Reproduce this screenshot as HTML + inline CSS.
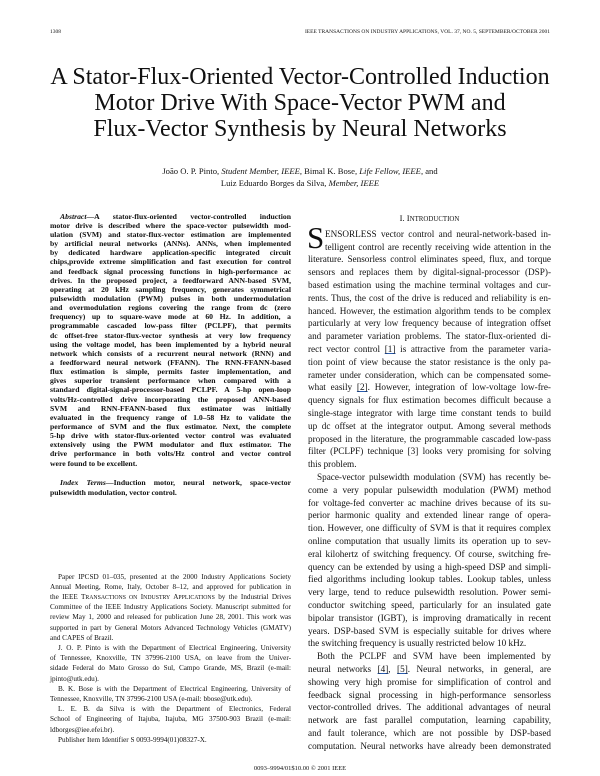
<!DOCTYPE html>
<html><head><meta charset="utf-8"><style>
body{margin:0;width:600px;height:776px;background:#fff;position:relative;overflow:hidden;font-family:"Liberation Serif","Times New Roman",serif;color:#111}
.a{position:absolute;white-space:nowrap;font-family:"Liberation Serif",serif}
.l{position:absolute;white-space:nowrap;text-align:justify;text-align-last:justify;font-family:"Liberation Serif",serif}
.ab{font-weight:bold;font-size:7.7px;left:50px;width:241px}
.bd{font-size:9.2px;left:308px;width:243px}
.fn{font-size:7.2px;left:50px;width:241px}
.nl{text-align-last:left}
.t{left:0;width:600px;text-align:center;font-size:24px;font-family:"Liberation Serif","Times New Roman",serif;font-weight:normal}
</style></head><body>
<div class="a" style="left:50px;top:29px;font-size:5.5px">1308</div>
<div class="a" style="left:238px;top:29px;font-size:5.5px;width:312px;text-align:right">IEEE TRANSACTIONS ON INDUSTRY APPLICATIONS, VOL. 37, NO. 5, SEPTEMBER/OCTOBER 2001</div>
<div class="a t" style="top:64px">A Stator-Flux-Oriented Vector-Controlled Induction</div>
<div class="a t" style="top:90px">Motor Drive With Space-Vector PWM and</div>
<div class="a t" style="top:116px">Flux-Vector Synthesis by Neural Networks</div>
<div class="a" style="left:0;width:600px;text-align:center;top:166px;font-size:8.6px">João O. P. Pinto, <i>Student Member, IEEE</i>, Bimal K. Bose, <i>Life Fellow, IEEE</i>, and</div>
<div class="a" style="left:0;width:600px;text-align:center;top:178px;font-size:8.6px">Luiz Eduardo Borges da Silva, <i>Member, IEEE</i></div>

<div class="l ab" style="top:212px;left:60px;width:231px"><i>Abstract</i>—A stator-flux-oriented vector-controlled induction</div>
<div class="l ab" style="top:221px">motor drive is described where the space-vector pulsewidth mod-</div>
<div class="l ab" style="top:230px">ulation (SVM) and stator-flux-vector estimation are implemented</div>
<div class="l ab" style="top:239px">by artificial neural networks (ANNs). ANNs, when implemented</div>
<div class="l ab" style="top:248px">by dedicated hardware application-specific integrated circuit</div>
<div class="l ab" style="top:257px">chips,provide extreme simplification and fast execution for control</div>
<div class="l ab" style="top:267px">and feedback signal processing functions in high-performance ac</div>
<div class="l ab" style="top:276px">drives. In the proposed project, a feedforward ANN-based SVM,</div>
<div class="l ab" style="top:285px">operating at 20 kHz sampling frequency, generates symmetrical</div>
<div class="l ab" style="top:294px">pulsewidth modulation (PWM) pulses in both undermodulation</div>
<div class="l ab" style="top:303px">and overmodulation regions covering the range from dc (zero</div>
<div class="l ab" style="top:312px">frequency) up to square-wave mode at 60 Hz. In addition, a</div>
<div class="l ab" style="top:321px">programmable cascaded low-pass filter (PCLPF), that permits</div>
<div class="l ab" style="top:331px">dc offset-free stator-flux-vector synthesis at very low frequency</div>
<div class="l ab" style="top:340px">using the voltage model, has been implemented by a hybrid neural</div>
<div class="l ab" style="top:349px">network which consists of a recurrent neural network (RNN) and</div>
<div class="l ab" style="top:358px">a feedforward neural network (FFANN). The RNN-FFANN-based</div>
<div class="l ab" style="top:367px">flux estimation is simple, permits faster implementation, and</div>
<div class="l ab" style="top:376px">gives superior transient performance when compared with a</div>
<div class="l ab" style="top:385px">standard digital-signal-processor-based PCLPF. A 5-hp open-loop</div>
<div class="l ab" style="top:395px">volts/Hz-controlled drive incorporating the proposed ANN-based</div>
<div class="l ab" style="top:404px">SVM and RNN-FFANN-based flux estimator was initially</div>
<div class="l ab" style="top:413px">evaluated in the frequency range of 1.0–58 Hz to validate the</div>
<div class="l ab" style="top:422px">performance of SVM and the flux estimator. Next, the complete</div>
<div class="l ab" style="top:431px">5-hp drive with stator-flux-oriented vector control was evaluated</div>
<div class="l ab" style="top:440px">extensively using the PWM modulator and flux estimator. The</div>
<div class="l ab" style="top:449px">drive performance in both volts/Hz control and vector control</div>
<div class="l ab nl" style="top:459px">were found to be excellent.</div>
<div class="l ab" style="top:478px;left:60px;width:231px"><i>Index Terms</i>—Induction motor, neural network, space-vector</div>
<div class="l ab nl" style="top:488px">pulsewidth modulation, vector control.</div>

<div class="l fn" style="top:573px;left:58px;width:233px">Paper IPCSD 01–035, presented at the 2000 Industry Applications Society</div>
<div class="l fn" style="top:583px">Annual Meeting, Rome, Italy, October 8–12, and approved for publication in</div>
<div class="l fn" style="top:593px">the IEEE T<span style="font-size:5.8px">RANSACTIONS ON</span> I<span style="font-size:5.8px">NDUSTRY</span> A<span style="font-size:5.8px">PPLICATIONS</span> by the Industrial Drives</div>
<div class="l fn" style="top:603px">Committee of the IEEE Industry Applications Society. Manuscript submitted for</div>
<div class="l fn" style="top:613px">review May 1, 2000 and released for publication June 28, 2001. This work was</div>
<div class="l fn" style="top:624px">supported in part by General Motors Advanced Technology Vehicles (GMATV)</div>
<div class="l fn nl" style="top:634px">and CAPES of Brazil.</div>
<div class="l fn" style="top:644px;left:58px;width:233px">J. O. P. Pinto is with the Department of Electrical Engineering, University</div>
<div class="l fn" style="top:654px">of Tennessee, Knoxville, TN 37996-2100 USA, on leave from the Univer-</div>
<div class="l fn" style="top:664px">sidade Federal do Mato Grosso do Sul, Campo Grande, MS, Brazil (e-mail:</div>
<div class="l fn nl" style="top:675px">jpinto@utk.edu).</div>
<div class="l fn" style="top:685px;left:58px;width:233px">B. K. Bose is with the Department of Electrical Engineering, University of</div>
<div class="l fn nl" style="top:695px">Tennessee, Knoxville, TN 37996-2100 USA (e-mail: bbose@utk.edu).</div>
<div class="l fn" style="top:705px;left:58px;width:233px">L. E. B. da Silva is with the Department of Electronics, Federal</div>
<div class="l fn" style="top:715px">School of Engineering of Itajuba, Itajuba, MG 37500-903 Brazil (e-mail:</div>
<div class="l fn nl" style="top:726px">ldborges@iee.efei.br).</div>
<div class="l fn nl" style="top:736px;left:58px">Publisher Item Identifier S 0093-9994(01)08327-X.</div>

<div class="a" style="left:308px;width:243px;text-align:center;top:213px;font-size:8.6px">I. I<span style="font-size:6.9px">NTRODUCTION</span></div>
<div class="a" style="left:307px;top:222px;font-size:31px;line-height:31px">S</div>
<div class="l bd" style="top:229px;left:325px;width:226px">ENSORLESS vector control and neural-network-based in-</div>
<div class="l bd" style="top:242px;left:325px;width:226px">telligent control are recently receiving wide attention in the</div>
<div class="l bd" style="top:254px">literature. Sensorless control eliminates speed, flux, and torque</div>
<div class="l bd" style="top:267px">sensors and replaces them by digital-signal-processor (DSP)-</div>
<div class="l bd" style="top:280px">based estimation using the machine terminal voltages and cur-</div>
<div class="l bd" style="top:293px">rents. Thus, the cost of the drive is reduced and reliability is en-</div>
<div class="l bd" style="top:306px">hanced. However, the estimation algorithm tends to be complex</div>
<div class="l bd" style="top:318px">particularly at very low frequency because of integration offset</div>
<div class="l bd" style="top:331px">and parameter variation problems. The stator-flux-oriented di-</div>
<div class="l bd" style="top:344px">rect vector control <u style="color:#2a5db0"><span style="color:#111">[1]</span></u> is attractive from the parameter varia-</div>
<div class="l bd" style="top:357px">tion point of view because the stator resistance is the only pa-</div>
<div class="l bd" style="top:370px">rameter under consideration, which can be compensated some-</div>
<div class="l bd" style="top:382px">what easily <u style="color:#2a5db0"><span style="color:#111">[2]</span></u>. However, integration of low-voltage low-fre-</div>
<div class="l bd" style="top:395px">quency signals for flux estimation becomes difficult because a</div>
<div class="l bd" style="top:408px">single-stage integrator with large time constant tends to build</div>
<div class="l bd" style="top:421px">up dc offset at the integrator output. Among several methods</div>
<div class="l bd" style="top:434px">proposed in the literature, the programmable cascaded low-pass</div>
<div class="l bd" style="top:446px">filter (PCLPF) technique [3] looks very promising for solving</div>
<div class="l bd nl" style="top:459px">this problem.</div>
<div class="l bd" style="top:472px;left:317px;width:234px">Space-vector pulsewidth modulation (SVM) has recently be-</div>
<div class="l bd" style="top:485px">come a very popular pulsewidth modulation (PWM) method</div>
<div class="l bd" style="top:498px">for voltage-fed converter ac machine drives because of its su-</div>
<div class="l bd" style="top:510px">perior harmonic quality and extended linear range of opera-</div>
<div class="l bd" style="top:523px">tion. However, one difficulty of SVM is that it requires complex</div>
<div class="l bd" style="top:536px">online computation that usually limits its operation up to sev-</div>
<div class="l bd" style="top:549px">eral kilohertz of switching frequency. Of course, switching fre-</div>
<div class="l bd" style="top:562px">quency can be extended by using a high-speed DSP and simpli-</div>
<div class="l bd" style="top:574px">fied algorithms including lookup tables. Lookup tables, unless</div>
<div class="l bd" style="top:587px">very large, tend to reduce pulsewidth resolution. Power semi-</div>
<div class="l bd" style="top:600px">conductor switching speed, particularly for an insulated gate</div>
<div class="l bd" style="top:613px">bipolar transistor (IGBT), is improving dramatically in recent</div>
<div class="l bd" style="top:626px">years. DSP-based SVM is especially suitable for drives where</div>
<div class="l bd nl" style="top:638px">the switching frequency is usually restricted below 10 kHz.</div>
<div class="l bd" style="top:651px;left:317px;width:234px">Both the PCLPF and SVM have been implemented by</div>
<div class="l bd" style="top:664px">neural networks <u style="color:#2a5db0"><span style="color:#111">[4]</span></u>, <u style="color:#2a5db0"><span style="color:#111">[5]</span></u>. Neural networks, in general, are</div>
<div class="l bd" style="top:677px">showing very high promise for simplification of control and</div>
<div class="l bd" style="top:690px">feedback signal processing in high-performance sensorless</div>
<div class="l bd" style="top:702px">vector-controlled drives. The additional advantages of neural</div>
<div class="l bd" style="top:715px">network are fast parallel computation, learning capability,</div>
<div class="l bd" style="top:728px">and fault tolerance, which are not possible by DSP-based</div>
<div class="l bd" style="top:741px">computation. Neural networks have already been demonstrated</div>

<div class="a" style="left:0;width:600px;text-align:center;top:765px;font-size:6.5px">0093–9994/01$10.00 © 2001 IEEE</div>
</body></html>
